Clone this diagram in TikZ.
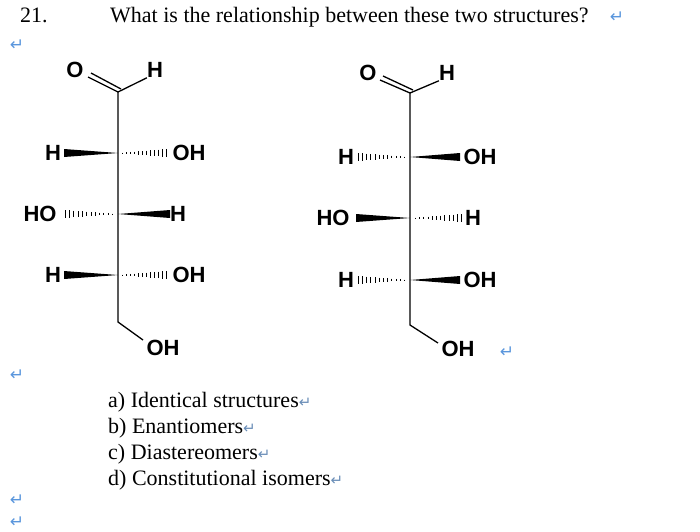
\documentclass[tikz,border=0pt]{standalone}
\usetikzlibrary{calc}
\usepackage{fontspec}
\setmainfont{Liberation Serif}
\newfontfamily\atomf{Liberation Sans Bold}
\newfontfamily\symf{DejaVu Sans}
\definecolor{retblue}{RGB}{90,150,220}
\begin{document}
\begin{tikzpicture}[x=1pt,y=-1pt,
  atom/.style={font=\atomf\fontsize{22}{22}\selectfont, inner sep=0pt},
  txt/.style={font=\fontsize{22}{24}\selectfont, anchor=base west, inner sep=0pt},
  ret/.style={font=\symf\fontsize{17}{17}\selectfont, text=retblue, inner sep=0pt},
  bond/.style={line width=1.3pt}]
\useasboundingbox (0,0) rectangle (700,531);
\newcommand{\wedgeb}[2]{\fill ($(#1)$) -- ($(#2)+(0,-4)$) -- ($(#2)+(0,4)$) -- cycle;}
\newcommand{\hashb}[2]{\foreach \t in {0.1,0.18,...,1.0}{\draw[line width=1pt] ($(#1)!\t!(#2)+(0,-4*\t)$) -- ($(#1)!\t!(#2)+(0,4*\t)$);}}
% texts
\node[txt] (q) at (20,22) {21.};
\node[txt] (qq) at (110,22) {What is the relationship between these two structures?};
\node[ret] (r1) at (617,17) {↵};
\node[ret] (r2) at (17,45) {↵};
\node[ret] (r3) at (507,352) {↵};
\node[ret] (r4) at (17,375) {↵};
\node[ret] (r5) at (17,500) {↵};
\node[ret] (r6) at (17,522) {↵};
\newcommand{\retm}{\textcolor{retblue!60!gray}{\symf\fontsize{15}{15}\selectfont ↵}}
\node[txt] (a) at (108,407) {a) Identical structures\retm};
\node[txt] (b) at (108,433) {b) Enantiomers\retm};
\node[txt] (c) at (108,459) {c) Diastereomers\retm};
\node[txt] (d) at (108,485) {d) Constitutional isomers\retm};
% ---------- left structure
\coordinate (L1) at (118,92); \coordinate (L2) at (118,153);
\coordinate (L3) at (118,214); \coordinate (L4) at (118,275);
\coordinate (L5) at (118,322);
\node[atom] (LO) at (75,70) {O}; \node[atom] (LH) at (155,70) {H};
\draw[bond] (L1) -- (88,77); \draw[bond] ($(L1)+(3,-3)$) -- (91,73);
\draw[bond] (L1) -- (LH.south west);
\draw[bond] (L1) -- (L5) -- (143,340);
\node[atom] (LOH5) at (163,348) {OH};
\node[atom] (LH2) at (53,153) {H}; \node[atom] (LOH2) at (189,153) {OH};
\node[atom] (LHO3) at (40,214) {HO}; \node[atom] (LH3) at (178,214) {H};
\node[atom] (LH4) at (53,275) {H}; \node[atom] (LOH4) at (189,275) {OH};
\coordinate (a2) at (64,153); \coordinate (b2) at (167,153);
\coordinate (a3) at (64,214); \coordinate (b3) at (170,214);
\coordinate (a4) at (64,275); \coordinate (b4) at (167,275);
\wedgeb{L2}{a2} \hashb{L2}{b2}
\hashb{L3}{a3} \wedgeb{L3}{b3}
\wedgeb{L4}{a4} \hashb{L4}{b4}
% ---------- right structure
\coordinate (R1) at (410,93); \coordinate (R2) at (410,157);
\coordinate (R3) at (410,218); \coordinate (R4) at (410,280);
\coordinate (R5) at (410,325);
\node[atom] (RO) at (368,73) {O}; \node[atom] (RH) at (447,73) {H};
\draw[bond] (R1) -- (380,80); \draw[bond] ($(R1)+(3,-3)$) -- (383,76);
\draw[bond] (R1) -- (RH.south west);
\draw[bond] (R1) -- (R5) -- (438,343);
\node[atom] (ROH5) at (458,349) {OH};
\node[atom] (RH2) at (346,157) {H}; \node[atom] (ROH2) at (480,157) {OH};
\node[atom] (RHO3) at (333,218) {HO}; \node[atom] (RH3) at (473,218) {H};
\node[atom] (RH4) at (346,280) {H}; \node[atom] (ROH4) at (480,280) {OH};
\coordinate (c2) at (357,157); \coordinate (d2) at (460,157);
\coordinate (c3) at (356,218); \coordinate (d3) at (463,218);
\coordinate (c4) at (357,280); \coordinate (d4) at (460,280);
\hashb{R2}{c2} \wedgeb{R2}{d2}
\wedgeb{R3}{c3} \hashb{R3}{d3}
\hashb{R4}{c4} \wedgeb{R4}{d4}
\end{tikzpicture}
\end{document}
